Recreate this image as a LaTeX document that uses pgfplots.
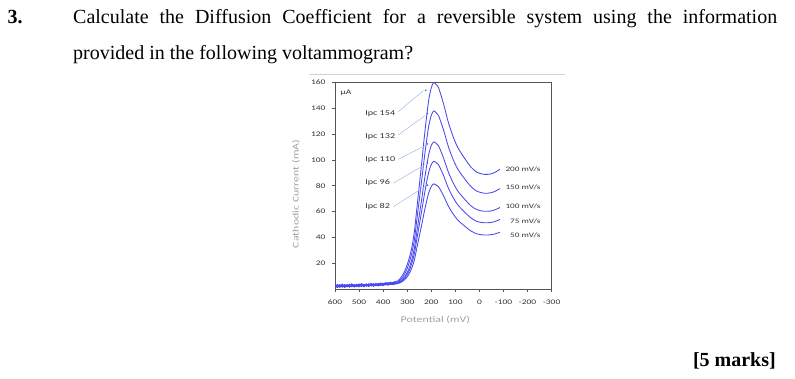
\documentclass[border=0pt]{standalone}
\usepackage{fontspec}
\setmainfont{Liberation Serif}
\newfontfamily\cf[FakeStretch=1.35]{Carlito}
\usepackage{pgfplots}
\pgfplotsset{compat=1.18}
\definecolor{cvblue}{RGB}{72,72,238}
\definecolor{leader}{RGB}{160,185,235}
\definecolor{axgray}{RGB}{85,85,85}
\definecolor{labgray}{RGB}{160,160,160}
\definecolor{tickgray}{RGB}{50,50,50}
\begin{document}
\begin{tikzpicture}[x=1pt,y=1pt]
\useasboundingbox (0,0) rectangle (795,378);
\node[anchor=base west,inner sep=0,font=\fontsize{20}{24}\selectfont\bfseries] at (7.3,354) {3.};
\node[anchor=base west,inner sep=0,font=\fontsize{20}{24}\selectfont] at (73,354) {\makebox[704pt][s]{Calculate the Diffusion Coefficient for a reversible system using the information}};
\node[anchor=base west,inner sep=0,font=\fontsize{20}{24}\selectfont] at (73,318) {provided in the following voltammogram?};
\node[anchor=base east,inner sep=0,font=\fontsize{20}{24}\selectfont\bfseries] at (776,11.5) {[5 marks]};
\draw[black!18, line width=0.8pt] (309,304) -- (565,304);
\begin{axis}[
  at={(335pt,89pt)}, anchor=south west, scale only axis,
  width=216.7pt, height=206.5pt,
  x dir=reverse, xmin=-300, xmax=600, ymin=0, ymax=160,
  xtick={-300,-200,...,600}, ytick={20,40,...,160},
  axis line style={axgray, line width=0.7pt},
  tick style={axgray, line width=0.6pt},
  tick align=outside, xtick pos=left, ytick pos=left,
  major tick length=3pt,
  /pgf/number format/assume math mode=true,
  tick label style={font=\cf\fontsize{7}{8}\selectfont, text=tickgray},
  xticklabel style={yshift=-4.5pt},
  yticklabel style={xshift=-3pt},
  xlabel={Potential (mV)},
  xlabel style={font=\cf\fontsize{8.8}{10}\selectfont, text=labgray, at={(axis description cs:0.463,-0.15)}, anchor=center},
  ylabel={Cathodic Current (mA)},
  ylabel style={font=\cf\fontsize{8.8}{10}\selectfont, text=labgray, at={(axis description cs:-0.18,0.46)}, anchor=center},
]
\addplot[cvblue, line width=0.85pt, smooth] coordinates {(600,1.6)(590,3.6)(580,2.2)(570,3.9)(560,1.9)(550,3.5)(540,2.4)(530,4.1)(520,2.2)(510,3.7)(500,2.6)(490,4.2)(480,2.7)(470,3.9)(460,2.8)(450,4.4)(440,3.0)(430,4.3)(420,3.3)(410,4.7)(400,3.6)(390,5.0)(380,4.2)(370,5.3)(360,4.9)(350,5.8)(340,6.2)(330,8.0)(320,10.5)(310,14.0)(300,19.0)(290,25.0)(280,33.0)(270,45.0)(260,62.4)(250,80.0)(240,97.6)(230,116.0)(220,132.8)(210,147.2)(200,156.0)(190,160.0)(180,158.4)(170,156.0)(150,144.0)(130,129.6)(110,118.4)(90,109.6)(60,100.8)(35,94.4)(10,90.4)(-20,88.8)(-45,89.1)(-65,90.4)(-85,92.8)};
\addplot[cvblue, line width=0.85pt, smooth] coordinates {(600,2.8)(590,1.3)(580,3.4)(570,1.7)(560,3.5)(550,1.9)(540,3.7)(530,2.0)(520,3.6)(510,2.2)(500,3.9)(490,2.3)(480,3.8)(470,2.5)(460,4.1)(450,2.6)(440,4.2)(430,2.9)(420,4.4)(410,3.2)(400,4.6)(390,3.6)(380,4.9)(370,4.1)(360,5.2)(350,5.0)(340,5.5)(330,6.8)(320,8.8)(310,11.8)(300,16.0)(290,21.5)(280,28.5)(270,38.6)(260,53.8)(250,69.0)(240,84.2)(230,100.0)(220,114.5)(210,127.0)(200,134.6)(190,138.0)(180,136.6)(170,134.4)(150,123.7)(130,110.8)(110,100.7)(90,92.9)(60,85.0)(35,79.3)(10,75.7)(-20,74.2)(-45,74.5)(-65,75.7)(-85,77.8)};
\addplot[cvblue, line width=0.85pt, smooth] coordinates {(600,1.2)(590,3.0)(580,1.6)(570,3.2)(560,1.5)(550,3.1)(540,1.7)(530,3.3)(520,1.9)(510,3.4)(500,2.0)(490,3.5)(480,2.2)(470,3.6)(460,2.4)(450,3.8)(440,2.5)(430,3.9)(420,2.8)(410,4.1)(400,3.0)(390,4.4)(380,3.4)(370,4.6)(360,3.9)(350,4.8)(340,4.9)(330,5.9)(320,7.4)(310,9.6)(300,12.8)(290,17.2)(280,23.5)(270,31.9)(260,44.5)(250,57.0)(240,69.5)(230,82.6)(220,94.6)(210,104.9)(200,111.2)(190,114.0)(180,112.8)(170,111.0)(150,101.9)(130,91.0)(110,82.5)(90,75.9)(60,69.2)(35,64.4)(10,61.4)(-20,60.2)(-45,60.4)(-65,61.4)(-85,63.2)};
\addplot[cvblue, line width=0.85pt, smooth] coordinates {(600,2.6)(590,1.1)(580,2.9)(570,1.4)(560,3.0)(550,1.6)(540,3.1)(530,1.7)(520,3.0)(510,1.8)(500,3.3)(490,1.9)(480,3.4)(470,2.1)(460,3.5)(450,2.3)(440,3.6)(430,2.5)(420,3.8)(410,2.7)(400,4.0)(390,3.1)(380,4.2)(370,3.5)(360,4.5)(350,4.1)(340,4.5)(330,5.3)(320,6.6)(310,8.5)(300,11.2)(290,15.0)(280,20.4)(270,27.7)(260,38.6)(250,49.5)(240,60.4)(230,71.8)(220,82.2)(210,91.1)(200,96.5)(190,99.0)(180,97.9)(170,96.3)(150,88.3)(130,78.6)(110,71.1)(90,65.2)(60,59.3)(35,55.0)(10,52.3)(-20,51.3)(-45,51.5)(-65,52.3)(-85,53.9)};
\addplot[cvblue, line width=0.85pt, smooth] coordinates {(600,1.0)(590,2.5)(580,1.3)(570,2.8)(560,1.2)(550,2.7)(540,1.4)(530,2.9)(520,1.5)(510,2.8)(500,1.6)(490,3.1)(480,1.7)(470,3.1)(460,1.9)(450,3.3)(440,2.1)(430,3.4)(420,2.3)(410,3.6)(400,2.6)(390,3.7)(380,2.9)(370,4.0)(360,3.3)(350,3.9)(340,4.1)(330,4.8)(320,5.8)(310,7.3)(300,9.4)(290,12.5)(280,16.8)(270,22.8)(260,31.8)(250,40.8)(240,49.7)(230,59.1)(220,67.6)(210,75.0)(200,79.5)(190,81.5)(180,80.6)(170,79.3)(150,72.6)(130,64.5)(110,58.3)(90,53.4)(60,48.5)(35,44.9)(10,42.7)(-20,41.8)(-45,42.0)(-65,42.7)(-85,44.0)};
% leader lines
\addplot[leader, line width=0.5pt] coordinates {(337,137.4)(233,153.7)};
\addplot[leader, line width=0.5pt] coordinates {(337,119.4)(225,134.5)};
\addplot[leader, line width=0.5pt] coordinates {(337,100.5)(225,111.2)};
\addplot[leader, line width=0.5pt] coordinates {(358,82.0)(225,96.5)};
\addplot[leader, line width=0.5pt] coordinates {(358,63.8)(225,79.5)};
\addplot[only marks, mark=*, mark size=0.65pt, color=cvblue!60!gray] coordinates {(223,154)(216.5,135.9)(216.5,112.4)(216.5,97.7)(216.5,80.4)};
% labels
\node[anchor=west, inner sep=0, font=\cf\fontsize{7}{8}\selectfont, text=tickgray] at (axis cs:577,152) {µA};
\node[anchor=west, inner sep=0, font=\cf\fontsize{7.5}{8}\selectfont, text=tickgray] at (axis cs:475,136.2) {Ipc 154};
\node[anchor=west, inner sep=0, font=\cf\fontsize{7.5}{8}\selectfont, text=tickgray] at (axis cs:475,118.1) {Ipc 132};
\node[anchor=west, inner sep=0, font=\cf\fontsize{7.5}{8}\selectfont, text=tickgray] at (axis cs:475,100.0) {Ipc 110};
\node[anchor=west, inner sep=0, font=\cf\fontsize{7.5}{8}\selectfont, text=tickgray] at (axis cs:475,82.4) {Ipc 96};
\node[anchor=west, inner sep=0, font=\cf\fontsize{7.5}{8}\selectfont, text=tickgray] at (axis cs:475,63.8) {Ipc 82};
\node[anchor=east, inner sep=0, font=\cf\fontsize{6.8}{8}\selectfont, text=tickgray] at (axis cs:-254.6,93.0) {200 mV/s};
\node[anchor=east, inner sep=0, font=\cf\fontsize{6.8}{8}\selectfont, text=tickgray] at (axis cs:-254.6,78.8) {150 mV/s};
\node[anchor=east, inner sep=0, font=\cf\fontsize{6.8}{8}\selectfont, text=tickgray] at (axis cs:-254.6,63.8) {100 mV/s};
\node[anchor=east, inner sep=0, font=\cf\fontsize{6.8}{8}\selectfont, text=tickgray] at (axis cs:-254.6,52.7) {75 mV/s};
\node[anchor=east, inner sep=0, font=\cf\fontsize{6.8}{8}\selectfont, text=tickgray] at (axis cs:-254.6,41.9) {50 mV/s};
\end{axis}
\end{tikzpicture}
\end{document}
